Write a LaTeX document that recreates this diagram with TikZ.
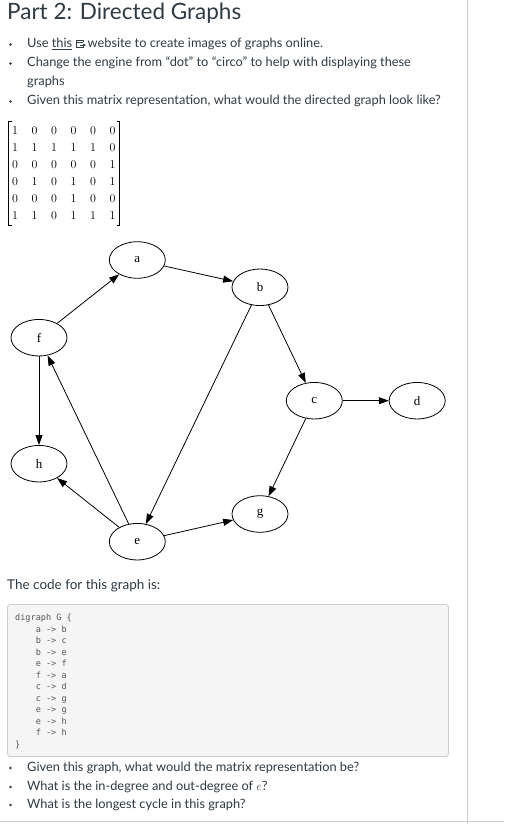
\documentclass[tikz,border=0pt]{standalone}
\usepackage{fontspec}
\setmainfont{Lato}
\newfontfamily\graphfont{Liberation Serif}
\newfontfamily\codefont{DejaVu Sans Mono}
\usetikzlibrary{shapes.geometric,arrows.meta,calc}
\definecolor{txt}{HTML}{2D3B45}
\definecolor{rule}{HTML}{C7CDD1}
\definecolor{codebg}{HTML}{F5F5F5}
\definecolor{codeborder}{HTML}{CCCCCC}
\definecolor{codetxt}{HTML}{555555}
\begin{document}
\begin{tikzpicture}[x=1pt,y=-1pt,
  body/.style={anchor=base west,inner sep=0pt,text=txt,font=\fontsize{12.8}{15}\selectfont},
  bul/.style={circle,fill=txt,inner sep=0pt,minimum size=2.6pt},
  ent/.style={inner sep=0pt,font=\fontsize{13}{13}\selectfont},
  gnode/.style={ellipse,draw,line width=0.8pt,minimum width=56pt,minimum height=36.5pt,inner sep=0pt,font=\graphfont\fontsize{13}{13}\selectfont},
  gedge/.style={line width=0.8pt,-{Triangle[length=10pt,width=7pt]}},
  code/.style={anchor=base west,inner sep=0pt,text=codetxt,font=\codefont\fontsize{8.55}{10}\selectfont}
]
\useasboundingbox (0,0) rectangle (504,824);
\fill[white] (0,0) rectangle (504,824);
% page rules
\draw[rule,line width=1pt] (467.5,0) -- (467.5,824);
\draw[rule,line width=1pt] (0,821.5) -- (504,821.5);

% title
\node[anchor=base west,inner sep=0pt,text=txt,font=\fontsize{22.5}{24}\selectfont] (title) at (7,19.5) {Part 2: Directed Graphs};

% top bullets
\node[bul] (b1) at (10.5,44.5) {};
\node[body] (t1a) at (27,48) {Use \underline{this}};
\coordinate (icon) at ([xshift=3.5pt]t1a.base east);
\draw[txt,line width=0.8pt] ($(icon)+(0,-0.5)$) -- ++(0,-7.5) -- ++(7,0) -- ++(0,2.5);
\draw[txt,line width=0.8pt] ($(icon)+(0,-0.5)$) -- ++(7,0) -- ++(0,-1.5);
\draw[txt,line width=0.8pt] ($(icon)+(0,-6)$) -- ++(7,0);
\draw[txt,line width=0.8pt,-{Latex[length=2.5pt,width=3.5pt]}] ($(icon)+(4,-3)$) -- ++(6,0);
\node[body] (t1b) at ([xshift=15pt]t1a.base east) {website to create images of graphs online.};
\node[bul] (b2) at (10.5,63.5) {};
\node[body] (t2) at (27,67) {Change the engine from “dot” to “circo” to help with displaying these};
\node[body] (t2b) at (27,86) {graphs};
\node[bul] (b3) at (10.5,101.5) {};
\node[body] (t3) at (27,105) {Given this matrix representation, what would the directed graph look like?};

% matrix
\draw[line width=0.6pt] (11.5,121.5) -- (8.5,121.5) -- (8.5,225.5) -- (11.5,225.5);
\draw[line width=0.6pt] (116.5,121.5) -- (119.5,121.5) -- (119.5,225.5) -- (116.5,225.5);
\foreach \r [count=\i from 0] in {{1,0,0,0,0,0},{1,1,1,1,1,0},{0,0,0,0,0,1},{0,1,0,1,0,1},{0,0,0,1,0,0},{1,1,0,1,1,1}}{
  \foreach \v [count=\j from 0] in \r {
    \node[ent] (m\i\j) at (15+\j*19.5,130.5+\i*17) {$\v$};
  }
}

% graph
\node[gnode] (a) at (137.3,260) {a};
\node[gnode] (b) at (260,287.3) {b};
\node[gnode] (f) at (39,337.7) {f};
\node[gnode] (c) at (314.3,400.7) {c};
\node[gnode] (d) at (417.2,400.7) {d};
\node[gnode] (h) at (39,463.7) {h};
\node[gnode] (g) at (260,514) {g};
\node[gnode] (e) at (137.3,541.7) {e};
\draw[gedge] (a) -- (b);
\draw[gedge] (b) -- (c);
\draw[gedge] (b) -- (e);
\draw[gedge] (e) -- (f);
\draw[gedge] (f) -- (a);
\draw[gedge] (c) -- (d);
\draw[gedge] (c) -- (g);
\draw[gedge] (e) -- (g);
\draw[gedge] (e) -- (h);
\draw[gedge] (f) -- (h);

% code text
\node[anchor=base west,inner sep=0pt,text=txt,font=\fontsize{13.5}{15}\selectfont] (codeintro) at (7,589) {The code for this graph is:};
\draw[codeborder,fill=codebg,line width=0.8pt,rounded corners=3pt] (7.5,604.5) rectangle (448.5,756.5);
\node[code] (c0) at (15,620.7) {digraph G \{};
\foreach \s [count=\k] in {a -> b,b -> c,b -> e,e -> f,f -> a,c -> d,c -> g,e -> g,e -> h,f -> h}{
  \node[code] (c\k) at (35.6,620.7+\k*11.5) {\s};
}
\node[code] (c11) at (15,747.2) {\}};

% bottom bullets
\node[bul] (b4) at (10.5,768) {};
\node[body] (t4) at (27,771.7) {Given this graph, what would the matrix representation be?};
\node[bul] (b5) at (10.5,787) {};
\node[body] (t5) at (27,790.5) {What is the in-degree and out-degree of $e$?};
\node[bul] (b6) at (10.5,805) {};
\node[body] (t6) at (27,808.5) {What is the longest cycle in this graph?};
\end{tikzpicture}
\end{document}
